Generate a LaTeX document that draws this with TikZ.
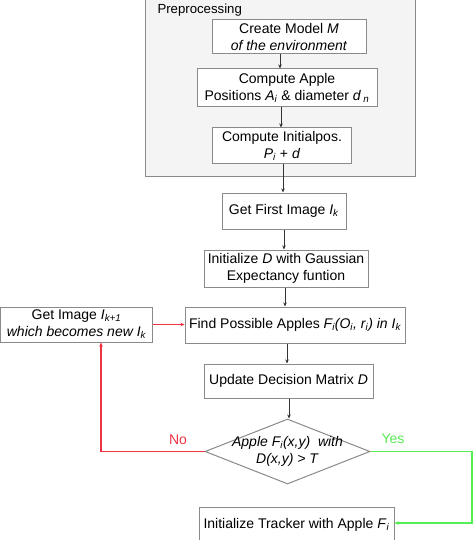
\documentclass[tikz,border=0pt]{standalone}
\usepackage{fontspec}
\setmainfont{Liberation Sans}
\usepackage{xcolor}
\usetikzlibrary{arrows.meta,shapes.geometric}

\definecolor{boxgray}{HTML}{8A8A8A}
\definecolor{prefill}{HTML}{F4F4F4}
\definecolor{nored}{HTML}{EE3344}
\definecolor{yesgreen}{HTML}{55EE55}

\tikzset{
  block/.style={draw=boxgray, line width=1pt, fill=white, align=center, inner sep=1pt,
    font=\fontsize{14}{17}\selectfont},
  decision/.style={diamond, draw=boxgray, line width=1pt, fill=white, inner sep=0pt,
    minimum width=165pt, minimum height=65pt},
  flow/.style={-{Stealth[length=4pt,width=3.5pt]}, line width=0.9pt, black!80},
  loopno/.style={-{Stealth[length=4pt,width=3.5pt]}, line width=1.1pt, nored},
  loopyes/.style={-{Stealth[length=4pt,width=3.5pt]}, line width=1.1pt, yesgreen}
}

\begin{document}
\begin{tikzpicture}[x=1pt,y=-1pt]
\useasboundingbox (0,0) rectangle (474,540);
% Rahmen Vorverarbeitung
\draw[draw=boxgray, line width=1pt, fill=prefill] (145,-5) rectangle (415,176);
\node[anchor=west, font=\fontsize{13.2}{16}\selectfont] (pretitle) at (154,10) {Preprocessing};
% Bloecke
\node[block, minimum width=154pt, minimum height=34pt] (model) at (289,37)
  {Create Model \textit{M}\\\textit{of the environment}};
\node[block, minimum width=180pt, minimum height=38pt] (apple) at (287,88)
  {Compute Apple\\Positions \textit{A}\textsubscript{\textit{i}} \& diameter \textit{d}\,\textsubscript{\textit{n}}};
\node[block, minimum width=139pt, minimum height=36pt] (initpos) at (282,146)
  {Compute Initialpos.\\\textit{P}\textsubscript{\textit{i}} + \textit{d}};
\node[block, minimum width=124pt, minimum height=36pt] (first) at (284,211)
  {Get First Image \textit{I}\textsubscript{\textit{k}}};
\node[block, minimum width=164pt, minimum height=37pt] (initD) at (286,268.5)
  {Initialize \textit{D} with Gaussian\\Expectancy funtion};
\node[block, minimum width=220pt, minimum height=36pt] (find) at (295,325)
  {Find Possible Apples \textit{F\textsubscript{i}(O\textsubscript{i}, r\textsubscript{i}) in I\textsubscript{k}}};
\node[block, minimum width=152pt, minimum height=35pt] (getimg) at (76.5,324.5)
  {Get Image \textit{I}\textsubscript{\textit{k+1}}\\\textit{which becomes new I\textsubscript{k}}};
\node[block, minimum width=169pt, minimum height=34pt] (update) at (288.5,381)
  {Update Decision Matrix \textit{D}};
\node[decision, label={[align=center, font=\fontsize{14}{17}\selectfont]center:{\textit{Apple F\textsubscript{i}(x,y)\ \ with}\\\textit{D(x,y) > T}}}] (cond) at (287.5,451.5) {};
\node[block, minimum width=195pt, minimum height=36pt] (tracker) at (296.5,525)
  {Initialize Tracker with Apple \textit{F}\textsubscript{\textit{i}}};
% Verbindungen
\draw[flow] (model.south -| 280,0) -- (apple.north -| 280,0);
\draw[flow] (apple.south -| 281,0) -- (initpos.north -| 281,0);
\draw[flow] (initpos.south -| 283,0) -- (first.north -| 283,0);
\draw[flow] (first.south) -- (initD.north -| first.south);
\draw[flow] (initD.south -| 285,0) -- (find.north -| 285,0);
\draw[flow] (find.south -| 287,0) -- (update.north -| 287,0);
\draw[flow] (update.south -| 289,0) -- (cond.north -| 289,0);
\draw[loopno] (getimg.east) -- (find.west |- getimg.east);
\coordinate (noturn) at (101,451.5);
\draw[loopno] (cond.west) -- (noturn) -- (noturn |- getimg.south);
\coordinate (yesturn) at (472,451.5);
\draw[loopyes] (cond.east) -- (yesturn) -- (yesturn |- 0,523) -- (tracker.east |- 0,523);
% Beschriftungen
\node[text=nored, font=\fontsize{14}{17}\selectfont] (nolabel) at (178,440) {No};
\node[text=yesgreen, font=\fontsize{14}{17}\selectfont] (yeslabel) at (393,439) {Yes};
\end{tikzpicture}
\end{document}
